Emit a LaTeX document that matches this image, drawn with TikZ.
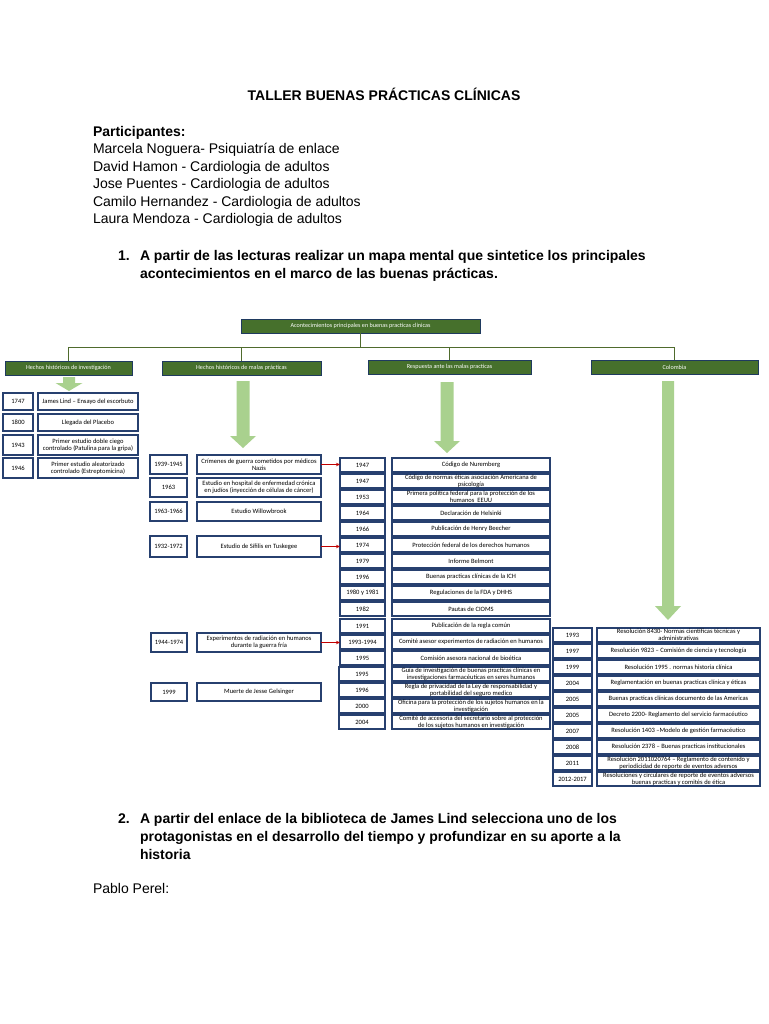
\documentclass[tikz,border=0pt]{standalone}
\usepackage{fontspec}
\setmainfont{Liberation Sans}
\newfontfamily\boxfont{Carlito}
\usetikzlibrary{arrows.meta}
\definecolor{hdrfill}{HTML}{46702C}
\definecolor{hdrdraw}{HTML}{1F3A5F}
\definecolor{boxdraw}{HTML}{27406F}
\definecolor{treeline}{HTML}{4F6B2D}
\definecolor{arrowgreen}{HTML}{A9D18E}
\definecolor{redarrow}{HTML}{C00000}
% name, x1, y1, x2, y2, style, text
\newcommand{\rbox}[7]{\node[#6, minimum width={((#4)-(#2))*0.75pt}, minimum height={((#5)-(#3))*0.75pt}] (#1) at ({((#2)+(#4))/2},{((#3)+(#5))/2}) {#7};}
% cx, top, headstart, tip, shaftw, headw
\newcommand{\garrow}[6]{\fill[arrowgreen] ({#1-#5/2},#2) -- ({#1+#5/2},#2) -- ({#1+#5/2},#3) -- ({#1+#6/2},#3) -- (#1,#4) -- ({#1-#6/2},#3) -- ({#1-#5/2},#3) -- cycle;}
\begin{document}
\begin{tikzpicture}[x=0.75pt,y=-0.75pt,
  body/.style={font=\fontsize{10.5}{13}\selectfont, inner sep=0, outer sep=0, anchor=base west},
  bodyb/.style={body, font=\fontsize{10.5}{13}\selectfont\bfseries},
  hdr/.style={draw=hdrdraw, fill=hdrfill, line width=0.6pt, text=white, inner sep=0, outer sep=0,
    font=\boxfont\fontsize{4.6}{5}\selectfont},
  yr/.style={draw=boxdraw, fill=white, line width=0.8pt, inner sep=0, outer sep=0,
    font=\boxfont\fontsize{4.9}{5.3}\selectfont},
  ct/.style={yr, align=center},
  tree/.style={draw=treeline, line width=0.7pt},
  redarr/.style={draw=redarrow, line width=0.8pt, -{Stealth[length=3pt,width=2.6pt]}}]
\useasboundingbox (0,0) rectangle (768,1024);
\fill[white] (0,0) rectangle (768,1024);

% ---------- body text ----------
\node[bodyb, anchor=base] (title) at (384,100) {TALLER BUENAS PRÁCTICAS CLÍNICAS};
\node[bodyb] (part) at (93,136) {Participantes:};
\node[body] (n1) at (93,153.5) {Marcela Noguera- Psiquiatría de enlace};
\node[body] (n2) at (93,171) {David Hamon - Cardiologia de adultos};
\node[body] (n3) at (93,188.5) {Jose Puentes - Cardiologia de adultos};
\node[body] (n4) at (93,206) {Camilo Hernandez - Cardiologia de adultos};
\node[body] (n5) at (93,223.5) {Laura Mendoza - Cardiologia de adultos};
\node[bodyb] (q1n) at (118,260) {1.};
\node[bodyb] (q1a) at (140,260) {A partir de las lecturas realizar un mapa mental que sintetice los principales};
\node[bodyb] (q1b) at (140,278) {acontecimientos en el marco de las buenas prácticas.};
\node[bodyb] (q2n) at (118,823) {2.};
\node[bodyb] (q2a) at (140,823) {A partir del enlace de la biblioteca de James Lind selecciona uno de los};
\node[bodyb] (q2b) at (140,841) {protagonistas en el desarrollo del tiempo y profundizar en su aporte a la};
\node[bodyb] (q2c) at (140,859) {historia};
\node[body] (pablo) at (93,893) {Pablo Perel:};

% ---------- header tree ----------
\rbox{top}{241}{319}{480}{333}{hdr}{Acontecimientos principales en buenas practicas clínicas}
\rbox{h1}{5}{361}{132}{375}{hdr}{Hechos históricos de investigación}
\rbox{h2}{162}{361}{321}{375}{hdr}{Hechos históricos de malas prácticas}
\rbox{h3}{368}{360}{531}{374}{hdr}{Respuesta ante las malas practicas}
\rbox{h4}{591}{360}{758}{374}{hdr}{Colombia}
\coordinate (bus) at (0,347);
\draw[tree] (top.south) -- (top.south |- bus);
\draw[tree] (h1.north |- bus) -- (h4.north |- bus);
\foreach \h in {h1,h2,h3,h4} \draw[tree] (\h.north |- bus) -- (\h.north);

% ---------- green block arrows ----------
\garrow{69}{377}{383}{391}{12}{27}
\garrow{243}{381}{436}{448}{13}{26}
\garrow{447}{382}{441}{453}{13}{26}
\garrow{668}{381}{606}{620}{12}{26}

% ---------- column 1 ----------
\rbox{a1y}{3}{393}{33}{410}{yr}{1747}
\rbox{a1c}{38}{393}{138}{410}{ct}{James Lind – Ensayo del escorbuto}
\rbox{a2y}{3}{414}{33}{431}{yr}{1800}
\rbox{a2c}{38}{414}{138}{431}{ct}{Llegada del Placebo}
\rbox{a3y}{3}{435}{33}{455}{yr}{1943}
\rbox{a3c}{38}{435}{138}{455}{ct}{Primer estudio doble ciego\\controlado (Patulina para la gripa)}
\rbox{a4y}{3}{458}{33}{478}{yr}{1946}
\rbox{a4c}{38}{458}{138}{478}{ct}{Primer estudio aleatorizado\\controlado (Estreptomicina)}

% ---------- column 2 ----------
\rbox{b1y}{150}{455}{187}{474}{yr}{1939-1945}
\rbox{b1c}{197}{455}{321}{474}{ct}{Crímenes de guerra cometidos por médicos\\Nazis}
\rbox{b2y}{150}{478}{187}{497}{yr}{1963}
\rbox{b2c}{197}{478}{321}{497}{ct}{Estudio en hospital de enfermedad crónica\\en judíos (inyección de células de cáncer)}
\rbox{b3y}{150}{502}{187}{521}{yr}{1963-1966}
\rbox{b3c}{197}{502}{321}{521}{ct}{Estudio Willowbrook}
\rbox{b4y}{150}{536}{187}{557}{yr}{1932-1972}
\rbox{b4c}{197}{536}{321}{557}{ct}{Estudio de Sífilis en Tuskegee}
\rbox{b5y}{151}{633}{187}{652}{yr}{1944-1974}
\rbox{b5c}{197}{633}{321}{652}{ct}{Experimentos de radiación en humanos\\durante la guerra fría}
\rbox{b6y}{151}{683}{187}{701}{yr}{1999}
\rbox{b6c}{197}{683}{321}{701}{ct}{Muerte de Jesse Gelsinger}

% ---------- column 3 ----------
\rbox{c1y}{340}{458}{385}{472}{yr}{1947}
\rbox{c1c}{392}{458}{550}{472}{ct}{Código de Nuremberg}
\rbox{c2y}{340}{474}{385}{488}{yr}{1947}
\rbox{c2c}{392}{474}{550}{488}{ct}{Código de normas éticas asociación Americana de\\psicología}
\rbox{c3y}{340}{490}{385}{504}{yr}{1953}
\rbox{c3c}{392}{490}{550}{504}{ct}{Primera política federal para la protección de los\\humanos\ \ EEUU}
\rbox{c4y}{340}{506}{385}{520}{yr}{1964}
\rbox{c4c}{392}{506}{550}{520}{ct}{Declaración de Helsinki}
\rbox{c5y}{340}{522}{385}{536}{yr}{1966}
\rbox{c5c}{392}{522}{550}{536}{ct}{Publicación de Henry Beecher}
\rbox{c6y}{340}{538}{385}{552}{yr}{1974}
\rbox{c6c}{392}{538}{550}{552}{ct}{Protección federal de los derechos humanos}
\rbox{c7y}{340}{554}{385}{568}{yr}{1979}
\rbox{c7c}{392}{554}{550}{568}{ct}{Informe Belmont}
\rbox{c8y}{340}{570}{385}{584}{yr}{1996}
\rbox{c8c}{392}{570}{550}{584}{ct}{Buenas practicas clínicas de la ICH}
\rbox{c9y}{340}{586}{385}{600}{yr}{1980 y 1981}
\rbox{c9c}{392}{586}{550}{600}{ct}{Regulaciones de la FDA y DHHS}
\rbox{c10y}{340}{602}{385}{616}{yr}{1982}
\rbox{c10c}{392}{602}{550}{616}{ct}{Pautas de CIOMS}
\rbox{c11y}{340}{619}{385}{633}{yr}{1991}
\rbox{c11c}{392}{619}{550}{633}{ct}{Publicación de la regla común}
\rbox{c12y}{340}{635}{385}{649}{yr}{1993-1994}
\rbox{c12c}{392}{635}{550}{649}{ct}{Comité asesor experimentos de radiación en humanos}
\rbox{c13y}{340}{651}{385}{665}{yr}{1995}
\rbox{c13c}{392}{651}{550}{665}{ct}{Comisión asesora nacional de bioética}
\rbox{c14y}{339}{667}{385}{681}{yr}{1995}
\rbox{c14c}{392}{667}{550}{681}{ct}{Guía de investigación de buenas practicas clínicas en\\investigaciones farmacéuticas en seres humanos}
\rbox{c15y}{339}{683}{385}{697}{yr}{1996}
\rbox{c15c}{392}{683}{550}{697}{ct}{Regla de privacidad de la Ley de responsabilidad y\\portabilidad del seguro medico}
\rbox{c16y}{339}{699}{385}{713}{yr}{2000}
\rbox{c16c}{392}{699}{550}{713}{ct}{Oficina para la protección de los sujetos humanos en la\\investigación}
\rbox{c17y}{339}{715}{385}{729}{yr}{2004}
\rbox{c17c}{392}{715}{550}{729}{ct}{Comité de accesoria del secretario sobre al protección\\de los sujetos humanos en investigación}

% ---------- column 4 ----------
\rbox{d1y}{553}{628}{592}{642}{yr}{1993}
\rbox{d1c}{597}{628}{760}{642}{ct}{Resolución 8430- Normas científicas técnicas y\\administrativas}
\rbox{d2y}{553}{644}{592}{658}{yr}{1997}
\rbox{d2c}{597}{644}{760}{658}{ct}{Resolución 9823 – Comisión de ciencia y tecnología}
\rbox{d3y}{553}{660}{592}{674}{yr}{1999}
\rbox{d3c}{597}{660}{760}{674}{ct}{Resolución 1995 . normas historia clínica}
\rbox{d4y}{553}{676}{592}{690}{yr}{2004}
\rbox{d4c}{597}{676}{760}{690}{ct}{Reglamentación en buenas practicas clínica y éticas}
\rbox{d5y}{553}{692}{592}{706}{yr}{2005}
\rbox{d5c}{597}{692}{760}{706}{ct}{Buenas practicas clínicas documento de las Americas}
\rbox{d6y}{553}{708}{592}{722}{yr}{2005}
\rbox{d6c}{597}{708}{760}{722}{ct}{Decreto 2200- Reglamento del servicio farmacéutico}
\rbox{d7y}{553}{724}{592}{738}{yr}{2007}
\rbox{d7c}{597}{724}{760}{738}{ct}{Resolución 1403 –Modelo de gestión farmacéutico}
\rbox{d8y}{553}{740}{592}{754}{yr}{2008}
\rbox{d8c}{597}{740}{760}{754}{ct}{Resolución 2378 – Buenas practicas institucionales}
\rbox{d9y}{553}{756}{592}{770}{yr}{2011}
\rbox{d9c}{597}{756}{760}{770}{ct}{Resolución 2011020764 – Reglamento de contenido y\\periodicidad de reporte de eventos adversos}
\rbox{d10y}{553}{772}{592}{786}{yr}{2012-2017}
\rbox{d10c}{597}{772}{760}{786}{ct}{Resoluciones y circulares de reporte de eventos adversos\\buenas practicas y comités de ética}

% ---------- red connectors ----------
\draw[redarr] (b1c.east) -- (b1c.east -| c1y.west);
\draw[redarr] (b4c.east) -- (b4c.east -| c6y.west);
\draw[redarr] (b5c.east) -- (b5c.east -| c12y.west);
\end{tikzpicture}
\end{document}
